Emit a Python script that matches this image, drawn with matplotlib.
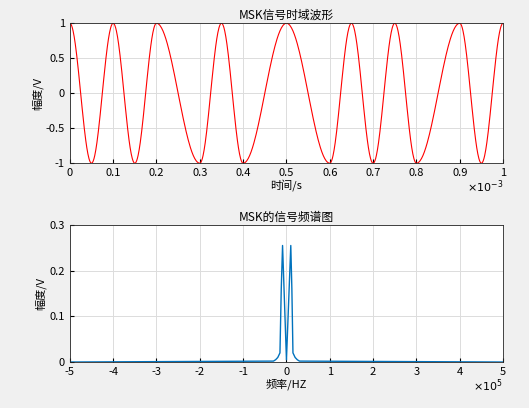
import numpy as np
import matplotlib
matplotlib.use("Agg")
import matplotlib.pyplot as plt

plt.rcParams['font.family'] = ['Noto Sans CJK SC', 'DejaVu Sans']
plt.rcParams['font.size'] = 8
plt.rcParams['axes.unicode_minus'] = False

# extrema of the time waveform (ms, value)
ext_t = [0, 0.05, 0.1, 0.15, 0.2, 0.3, 0.35, 0.4, 0.5, 0.6, 0.65, 0.7, 0.75, 0.8, 0.9, 0.95, 1.0]
ext_v = [1, -1, 1, -1, 1, -1, 1, -1, 1, -1, 1, -1, 1, -1, 1, -1, 1]

# spectrum points (Hz, magnitude)
spec_f = [-5e5, -3e4, -2.5e4, -2e4, -1.5e4, -1.2e4, -0.9e4, 0, 1.0e4, 1.25e4, 1.5e4, 2e4, 2.5e4, 3e4, 5e5]
spec_m = [0, 0.002, 0.005, 0.01, 0.02, 0.16, 0.255, 0.005, 0.255, 0.16, 0.02, 0.01, 0.005, 0.002, 0]

# build waveform: half-cosine between consecutive extrema
ts, vs = [], []
for i in range(len(ext_t) - 1):
    u = np.linspace(0, 1, 60, endpoint=False)
    ts.append(ext_t[i] + u * (ext_t[i + 1] - ext_t[i]))
    vs.append(ext_v[i] * np.cos(np.pi * u))
ts.append([ext_t[-1]]); vs.append([ext_v[-1]])
t = np.concatenate(ts) * 1e-3
v = np.concatenate(vs)

fig = plt.figure(figsize=(5.29, 4.08), dpi=100, facecolor='#f0f0f0')
ax1 = fig.add_axes([0.132, 0.600, 0.819, 0.343])
ax2 = fig.add_axes([0.132, 0.1127, 0.819, 0.336])

for ax in (ax1, ax2):
    ax.grid(True, color='#dcdcdc', linewidth=0.7)
    ax.set_axisbelow(True)
    ax.tick_params(direction='in', length=3, labelsize=8, top=False, right=False)
    for s in ax.spines.values():
        s.set_color('#262626'); s.set_linewidth(0.6)

ax1.plot(t, v, color='red', linewidth=0.8)
ax1.set_xlim(0, 1e-3)
ax1.set_ylim(-1, 1)
ax1.set_xticks(np.arange(0, 1.01e-3, 1e-4))
ax1.set_xticklabels(['0', '0.1', '0.2', '0.3', '0.4', '0.5', '0.6', '0.7', '0.8', '0.9', '1'])
ax1.set_yticks([-1, -0.5, 0, 0.5, 1])
ax1.set_yticklabels(['-1', '-0.5', '0', '0.5', '1'])
ax1.set_title('MSK信号时域波形', fontsize=8.5, pad=3)
ax1.set_xlabel('时间/s', labelpad=1)
ax1.set_ylabel('幅度/V', labelpad=2)
ax1.text(1.0, -0.11, r'$\times10^{-3}$', transform=ax1.transAxes, ha='right', va='top', fontsize=8)

ax2.plot(spec_f, spec_m, color='#0072bd', linewidth=1.0)
ax2.set_xlim(-5e5, 5e5)
ax2.set_ylim(0, 0.3)
ax2.set_xticks(np.arange(-5e5, 5.01e5, 1e5))
ax2.set_xticklabels([str(i) for i in range(-5, 6)])
ax2.set_yticks([0, 0.1, 0.2, 0.3])
ax2.set_yticklabels(['0', '0.1', '0.2', '0.3'])
ax2.set_title('MSK的信号频谱图', fontsize=8.5, pad=3)
ax2.set_xlabel('频率/HZ', labelpad=1)
ax2.set_ylabel('幅度/V', labelpad=2)
ax2.text(1.0, -0.11, r'$\times10^{5}$', transform=ax2.transAxes, ha='right', va='top', fontsize=8)

fig.savefig('out.png', dpi=100, facecolor=fig.get_facecolor())
